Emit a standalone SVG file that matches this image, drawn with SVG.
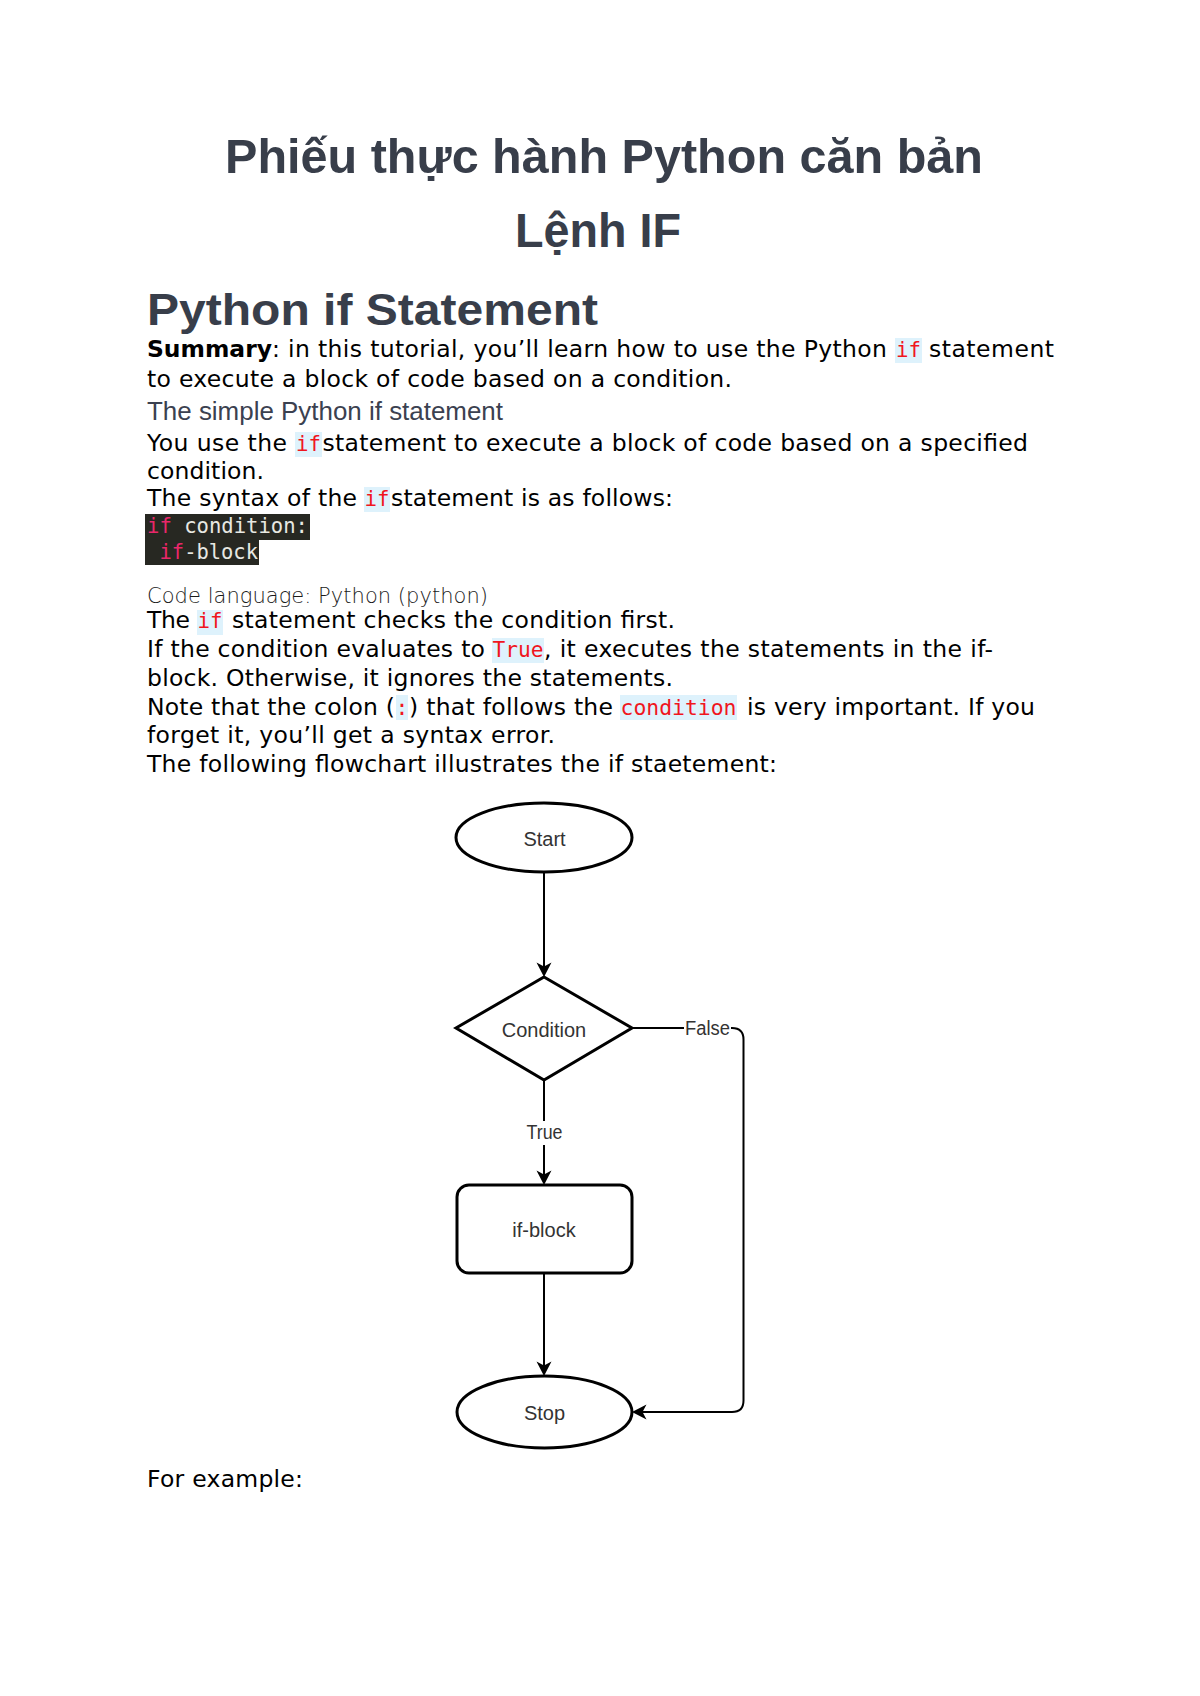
<svg xmlns="http://www.w3.org/2000/svg" width="1200" height="1696" viewBox="0 0 1200 1696">
<style>
.body{font-family:"DejaVu Sans","Verdana",sans-serif;font-size:23.5px;fill:#000}
.bold{font-weight:bold}
.title{font-family:"Liberation Sans",Arial,sans-serif;font-weight:bold;fill:#383e4a}
.sub{font-family:"Liberation Sans",Arial,sans-serif;font-size:25px;fill:#3b4150}
.mono{font-family:"DejaVu Sans Mono","Liberation Mono",monospace;font-size:21.5px;fill:#f0161e}
.hl{fill:#def2fc}
.code{font-family:"DejaVu Sans Mono","Liberation Mono",monospace;font-size:20.5px}
.note{font-family:"DejaVu Sans",sans-serif;font-size:21px;font-weight:300;fill:#1a1a1a}
.shape{fill:#fff;stroke:#000;stroke-width:3}
.lbl{font-family:"Liberation Sans",Arial,sans-serif;font-size:20px;fill:#333;text-anchor:middle}
.conn{fill:none;stroke:#000;stroke-width:2}
</style>
<defs>
<marker id="arr" viewBox="0 0 16 16" refX="13" refY="8" markerWidth="16" markerHeight="16" markerUnits="userSpaceOnUse" orient="auto">
<path d="M0.5,0.5 L15,8 L0.5,15.5 L4.5,8 Z" fill="#000"/>
</marker>
</defs>
<rect width="1200" height="1696" fill="#fff"/>

<g id="page-text">
<text class="title" x="225" y="173" font-size="49" textLength="758" lengthAdjust="spacingAndGlyphs">Phiếu thực hành Python căn bản</text>
<text class="title" x="515" y="247" font-size="49" textLength="166" lengthAdjust="spacingAndGlyphs">Lệnh IF</text>
<text class="title" x="147" y="325" font-size="45" textLength="451" lengthAdjust="spacingAndGlyphs">Python if Statement</text>

<rect class="hl" x="895" y="338" width="27" height="25"/>
<text class="body bold" x="147" y="357" textLength="125" lengthAdjust="spacingAndGlyphs">Summary</text>
<text class="body" x="272" y="357" textLength="615" lengthAdjust="spacing">: in this tutorial, you’ll learn how to use the Python</text>
<text class="mono" x="896" y="357" textLength="25" lengthAdjust="spacingAndGlyphs">if</text>
<text class="body" x="929" y="357" textLength="125" lengthAdjust="spacing">statement</text>
<text class="body" x="147" y="387" textLength="585" lengthAdjust="spacing">to execute a block of code based on a condition.</text>

<text class="sub" x="147" y="420" textLength="356" lengthAdjust="spacingAndGlyphs">The simple Python if statement</text>

<rect class="hl" x="295" y="432" width="27" height="25"/>
<text class="body" x="147" y="451" textLength="140" lengthAdjust="spacing">You use the</text>
<text class="mono" x="296" y="451" textLength="25" lengthAdjust="spacingAndGlyphs">if</text>
<text class="body" x="322.5" y="451" textLength="705.5" lengthAdjust="spacing">statement to execute a block of code based on a specified</text>
<text class="body" x="147" y="479" textLength="117" lengthAdjust="spacing">condition.</text>

<rect class="hl" x="364" y="487" width="26" height="25"/>
<text class="body" x="147" y="506" textLength="210" lengthAdjust="spacing">The syntax of the</text>
<text class="mono" x="364.5" y="506" textLength="25" lengthAdjust="spacingAndGlyphs">if</text>
<text class="body" x="391" y="506" textLength="282" lengthAdjust="spacing">statement is as follows:</text>

<rect x="145" y="514" width="165" height="26" fill="#272822"/>
<rect x="145" y="539" width="114" height="26" fill="#272822"/>
<text class="code" x="147" y="533" textLength="161" lengthAdjust="spacingAndGlyphs"><tspan fill="#e9276a">if</tspan><tspan fill="#e8e8e2" dx="12.4">condition:</tspan></text>
<text class="code" x="159.5" y="559" textLength="98.5" lengthAdjust="spacingAndGlyphs"><tspan fill="#e9276a">if</tspan><tspan fill="#e8e8e2">-block</tspan></text>

<text class="note" x="147" y="603" textLength="341" lengthAdjust="spacing">Code language: Python (python)</text>

<rect class="hl" x="197" y="610" width="26" height="25"/>
<text class="body" x="147" y="628" textLength="43" lengthAdjust="spacing">The</text>
<text class="mono" x="197.5" y="628" textLength="25" lengthAdjust="spacingAndGlyphs">if</text>
<text class="body" x="232" y="628" textLength="443" lengthAdjust="spacing">statement checks the condition first.</text>

<rect class="hl" x="492" y="638" width="52" height="25"/>
<text class="body" x="147" y="657" textLength="338" lengthAdjust="spacing">If the condition evaluates to</text>
<text class="mono" x="492.5" y="657" textLength="51" lengthAdjust="spacingAndGlyphs">True</text>
<text class="body" x="544" y="657" textLength="449" lengthAdjust="spacing">, it executes the statements in the if-</text>
<text class="body" x="147" y="686" textLength="526" lengthAdjust="spacing">block. Otherwise, it ignores the statements.</text>

<rect class="hl" x="396" y="695" width="12" height="25"/>
<rect class="hl" x="620" y="695" width="117" height="25"/>
<text class="body" x="147" y="715" textLength="248" lengthAdjust="spacing">Note that the colon (</text>
<text class="mono" x="402" y="715" text-anchor="middle">:</text>
<text class="body" x="409" y="715" textLength="204" lengthAdjust="spacing">) that follows the</text>
<text class="mono" x="620.5" y="715" textLength="116" lengthAdjust="spacingAndGlyphs">condition</text>
<text class="body" x="747" y="715" textLength="288" lengthAdjust="spacing">is very important. If you</text>
<text class="body" x="147" y="743" textLength="408" lengthAdjust="spacing">forget it, you’ll get a syntax error.</text>
<text class="body" x="147" y="772" textLength="630" lengthAdjust="spacing">The following flowchart illustrates the if staetement:</text>

<text class="body" x="147" y="1487" textLength="156" lengthAdjust="spacing">For example:</text>
</g>

<g id="connectors">
<path class="conn" d="M544 872 V975" marker-end="url(#arr)"/>
<path class="conn" d="M544 1080 V1183" marker-end="url(#arr)"/>
<path class="conn" d="M544 1273 V1374" marker-end="url(#arr)"/>
<path class="conn" d="M632 1028 H732 Q743.5 1028 743.5 1039.5 V1400.5 Q743.5 1412 732 1412 H634" marker-end="url(#arr)"/>
<rect x="524" y="1121" width="41" height="24" fill="#fff"/>
<text class="lbl" x="544.5" y="1139" textLength="36" lengthAdjust="spacingAndGlyphs">True</text>
<rect x="684" y="1017" width="47" height="24" fill="#fff"/>
<text class="lbl" x="707.5" y="1035" textLength="45" lengthAdjust="spacingAndGlyphs">False</text>
</g>

<g id="start">
<ellipse class="shape" cx="544" cy="837.5" rx="88" ry="34.5"/>
<text class="lbl" x="544.5" y="846">Start</text>
</g>
<g id="condition">
<polygon class="shape" points="544,977 632,1028 544,1080 456,1028"/>
<text class="lbl" x="544" y="1037">Condition</text>
</g>
<g id="if-block">
<rect class="shape" x="457" y="1185" width="175" height="88" rx="12" ry="12"/>
<text class="lbl" x="544" y="1237">if-block</text>
</g>
<g id="stop">
<ellipse class="shape" cx="544.5" cy="1412" rx="87.5" ry="36"/>
<text class="lbl" x="544.5" y="1420">Stop</text>
</g>
</svg>
